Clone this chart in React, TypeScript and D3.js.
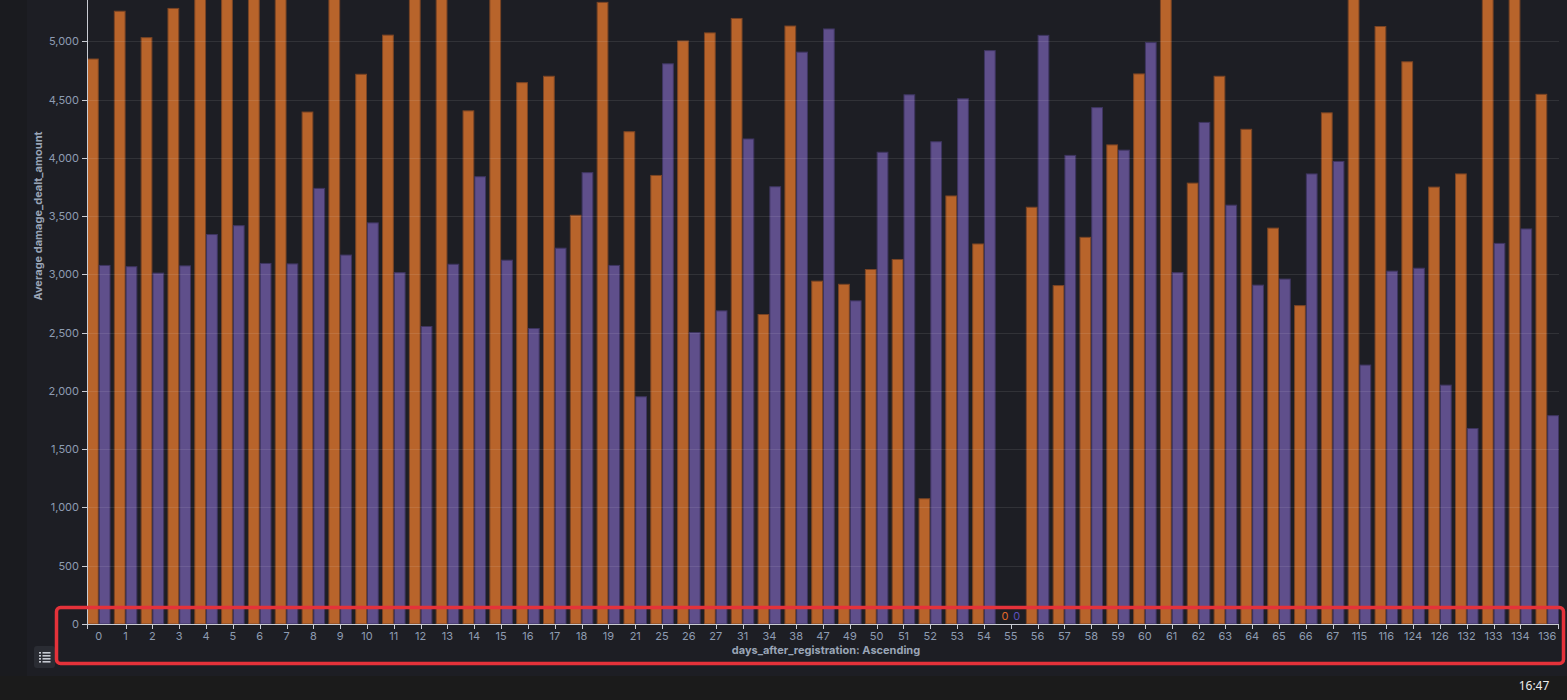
import React, { useEffect, useRef } from "react";
import * as d3 from "d3";

const categories = [
  "0", "1", "2", "3", "4", "5", "6", "7", "8", "9", "10", "11", "12", "13", "14", "15", "16", "17", "18", "19",
  "21", "25", "26", "27", "31", "34", "38", "47", "49", "50", "51", "52", "53", "54", "55", "56", "57", "58", "59",
  "60", "61", "62", "63", "64", "65", "66", "67", "115", "116", "124", "126", "132", "133", "134", "136",
];

const seriesOrange = [
  4852, 5262, 5035, 5286, 5700, 5900, 5600, 5800, 4397, 5500, 4721, 5057, 5650, 5750, 4407, 5550, 4649, 4704, 3511, 5338,
  4228, 3853, 5007, 5076, 5200, 2660, 5135, 2946, 2919, 3046, 3132, 1079, 3677, 3265, 0, 3580, 2908, 3322, 4115,
  4724, 5450, 3787, 4704, 4249, 3401, 2736, 4390, 5600, 5131, 4828, 3753, 3866, 5700, 5500, 4549,
];

const seriesPurple = [
  3081, 3070, 3015, 3077, 3346, 3422, 3098, 3094, 3742, 3170, 3446, 3019, 2557, 3091, 3842, 3126, 2540, 3229, 3877, 3081,
  1954, 4811, 2505, 2691, 4166, 3756, 4911, 5110, 2777, 4052, 4545, 4142, 4511, 4924, 0, 5055, 4025, 4435, 4070,
  4993, 3019, 4308, 3598, 2912, 2964, 3866, 3973, 2226, 3032, 3057, 2054, 1682, 3270, 3394, 1792,
];

const seriesNames = ["orange", "purple"];
const yTickValues = [0, 500, 1000, 1500, 2000, 2500, 3000, 3500, 4000, 4500, 5000];

const xAxisTitle = "days_after_registration: Ascending";
const yAxisTitle = "Average damage_dealt_amount";

export default function App() {
  const ref = useRef<SVGSVGElement>(null);

  useEffect(() => {
    document.body.style.margin = "0";
    document.body.style.background = "#1b1b1b";
    const svg = d3.select(ref.current);
    svg.selectAll("*").remove();

    const W = 1567;
    const H = 700;
    const left = 87;
    const right = 1559;
    const bottom = 624;
    const font = "Inter, 'Noto Sans', sans-serif";
    const labelColor = "#8e9cb2";
    const axisColor = "#c9ccd3";

    const colors: Record<string, string> = { orange: "#b8642b", purple: "#5f4f8b" };
    const strokes: Record<string, string> = { orange: "#7a4424", purple: "#3e3560" };
    const valueColors: Record<string, string> = { orange: "#e0692a", purple: "#5b50bd" };

    // backgrounds
    svg.append("rect").attr("x", 0).attr("y", 0).attr("width", W).attr("height", H).attr("fill", "#1b1b1b");
    svg.append("rect").attr("x", 0).attr("y", 0).attr("width", W).attr("height", 676).attr("fill", "#1d1e24");
    svg.append("rect").attr("x", 0).attr("y", 0).attr("width", 27).attr("height", 676).attr("fill", "#1a1b1f");

    const x = d3.scaleBand<string>().domain(categories).range([left, right]).paddingInner(0.123).paddingOuter(0);
    const xInner = d3.scaleBand<string>().domain(seriesNames).range([0, x.bandwidth()]).padding(0);
    const y = d3.scaleLinear().domain([0, 5354]).range([bottom, 0]);

    const data = categories.map((c, i) => ({ c, orange: seriesOrange[i], purple: seriesPurple[i] }));

    const g = svg.append("g");
    data.forEach((d) => {
      seriesNames.forEach((s) => {
        const v = (d as any)[s] as number;
        const bx = (x(d.c) as number) + (xInner(s) as number);
        if (v > 0) {
          g.append("rect")
            .attr("x", bx + 0.5)
            .attr("y", y(v) + 0.5)
            .attr("width", xInner.bandwidth() - 1)
            .attr("height", Math.max(0, bottom - y(v) - 0.5))
            .attr("fill", colors[s])
            .attr("stroke", strokes[s])
            .attr("stroke-width", 1);
        } else {
          g.append("text")
            .attr("x", bx + xInner.bandwidth() / 2)
            .attr("y", 617)
            .attr("text-anchor", "middle")
            .attr("dominant-baseline", "middle")
            .attr("font-family", font)
            .attr("font-size", 11)
            .attr("fill", valueColors[s])
            .text("0");
        }
      });
    });

    // gridlines (drawn over bars, faint)
    yTickValues.filter((v) => v > 0).forEach((v) => {
      svg.append("line")
        .attr("x1", left).attr("x2", right)
        .attr("y1", Math.round(y(v)) + 0.5).attr("y2", Math.round(y(v)) + 0.5)
        .attr("stroke", "#ffffff").attr("stroke-opacity", 0.09).attr("stroke-width", 1);
    });

    // y axis
    svg.append("line").attr("x1", left + 0.5).attr("x2", left + 0.5).attr("y1", 0).attr("y2", bottom + 1)
      .attr("stroke", axisColor).attr("stroke-width", 1);
    yTickValues.forEach((v) => {
      const yy = Math.round(y(v)) + 0.5;
      svg.append("line").attr("x1", left - 5).attr("x2", left).attr("y1", yy).attr("y2", yy)
        .attr("stroke", axisColor).attr("stroke-width", 1);
      svg.append("text")
        .attr("x", left - 8).attr("y", yy)
        .attr("text-anchor", "end").attr("dominant-baseline", "middle")
        .attr("font-family", font).attr("font-size", 11).attr("fill", labelColor)
        .text(d3.format(",")(v));
    });

    // x axis
    svg.append("line").attr("x1", left).attr("x2", right).attr("y1", bottom + 0.5).attr("y2", bottom + 0.5)
      .attr("stroke", axisColor).attr("stroke-width", 1);
    const tickXs: number[] = [left + 0.5, right - 0.5];
    categories.forEach((c, i) => {
      if (i > 0 && i < categories.length - 1) tickXs.push(Math.round((x(c) as number) + x.bandwidth() / 2) + 0.5);
    });
    tickXs.forEach((tx) => {
      svg.append("line").attr("x1", tx).attr("x2", tx).attr("y1", bottom).attr("y2", bottom + 5)
        .attr("stroke", axisColor).attr("stroke-width", 1);
    });
    categories.forEach((c) => {
      svg.append("text")
        .attr("x", (x(c) as number) + x.bandwidth() / 2)
        .attr("y", 637)
        .attr("text-anchor", "middle").attr("dominant-baseline", "middle")
        .attr("font-family", font).attr("font-size", 11).attr("fill", labelColor)
        .text(c);
    });

    // axis titles
    svg.append("text")
      .attr("x", 826).attr("y", 651)
      .attr("text-anchor", "middle").attr("dominant-baseline", "middle")
      .attr("font-family", font).attr("font-size", 11).attr("font-weight", "bold").attr("fill", "#9aa5b7")
      .text(xAxisTitle);
    svg.append("text")
      .attr("transform", "translate(39,216) rotate(-90)")
      .attr("text-anchor", "middle").attr("dominant-baseline", "middle")
      .attr("font-family", font).attr("font-size", 11).attr("font-weight", "bold").attr("fill", "#9aa5b7")
      .text(yAxisTitle);

    // legend toggle button
    const btn = svg.append("g").attr("transform", "translate(34,646)");
    btn.append("rect").attr("width", 21).attr("height", 22).attr("rx", 3).attr("fill", "#2a2c33");
    [0, 1, 2, 3].forEach((k) => {
      btn.append("rect").attr("x", 5).attr("y", 6 + k * 3).attr("width", 2).attr("height", 1.6).attr("fill", "#c5c9d1");
      btn.append("rect").attr("x", 8.5).attr("y", 6 + k * 3).attr("width", 8).attr("height", 1.6).attr("fill", "#c5c9d1");
    });

    // time
    svg.append("text")
      .attr("x", 1534).attr("y", 687)
      .attr("text-anchor", "middle").attr("dominant-baseline", "middle")
      .attr("font-family", "'Segoe UI', 'Noto Sans', sans-serif").attr("font-size", 12).attr("fill", "#ececec")
      .text("16:47");

    // red highlight box
    svg.append("rect")
      .attr("x", 56.5).attr("y", 607.5).attr("width", 1507).attr("height", 56)
      .attr("rx", 4).attr("fill", "none").attr("stroke", "#e5323a").attr("stroke-width", 3.5);
  }, []);

  return <svg ref={ref} width={1567} height={700} style={{ display: "block" }} />;
}
